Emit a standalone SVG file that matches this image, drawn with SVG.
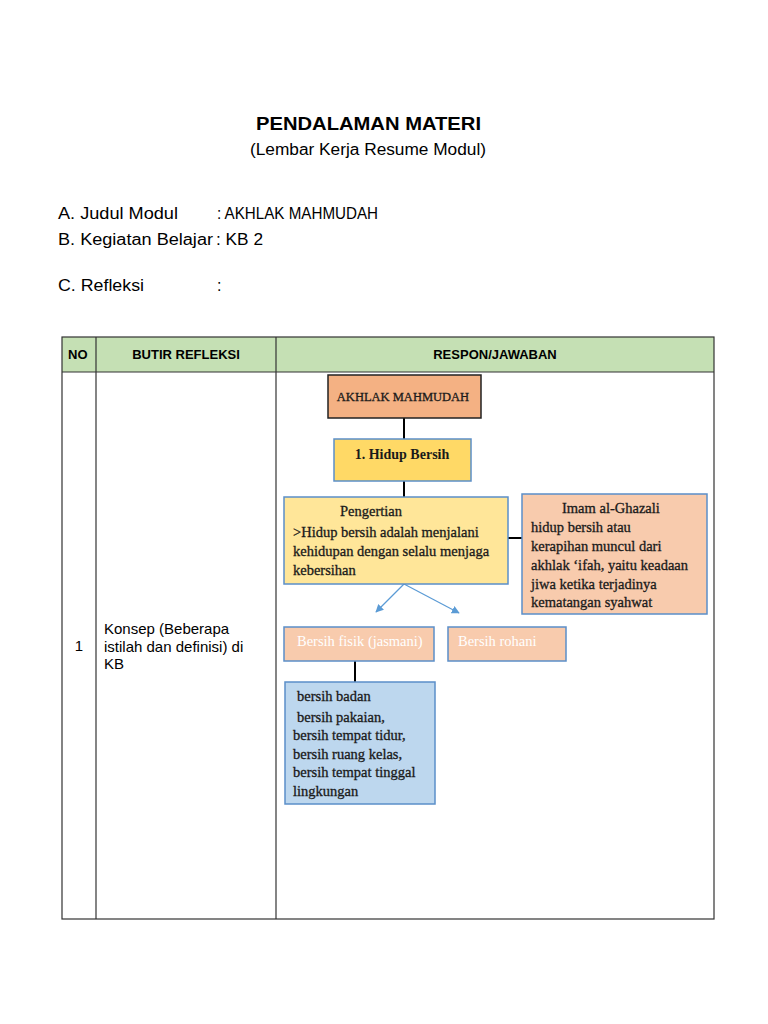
<svg xmlns="http://www.w3.org/2000/svg" width="768" height="1024" viewBox="0 0 768 1024">
<defs>
<style>
.sans{font-family:"Liberation Sans",Arial,sans-serif;fill:#000}
.ser{font-family:"Liberation Serif","Times New Roman",serif;fill:#1a1a1a;font-size:14.5px;stroke:#1a1a1a;stroke-width:0.3}
.cell{fill:none;stroke:#333;stroke-width:1.2}
.node{stroke:#5B8FC9;stroke-width:1.5}
.blk{stroke:#000;stroke-width:2;fill:none}
.blue{stroke:#5B9BD5;stroke-width:1.2;fill:none}
</style>
<marker id="ah" viewBox="0 0 10 10" refX="9" refY="5" markerWidth="8" markerHeight="8" orient="auto" markerUnits="userSpaceOnUse">
<path d="M0,0 L10,5 L0,10 z" fill="#5B9BD5"/>
</marker>
</defs>
<rect width="768" height="1024" fill="#fff"/>

<g id="header">
<text class="sans" x="256" y="130" font-size="18" font-weight="bold" textLength="225" lengthAdjust="spacingAndGlyphs">PENDALAMAN MATERI</text>
<text class="sans" x="250" y="155" font-size="16" textLength="236" lengthAdjust="spacingAndGlyphs">(Lembar Kerja Resume Modul)</text>
<text class="sans" x="58" y="219" font-size="16" textLength="120" lengthAdjust="spacingAndGlyphs">A. Judul Modul</text>
<text class="sans" x="217" y="219" font-size="16" textLength="161" lengthAdjust="spacingAndGlyphs">: AKHLAK MAHMUDAH</text>
<text class="sans" x="58" y="245" font-size="16" textLength="155" lengthAdjust="spacingAndGlyphs">B. Kegiatan Belajar</text>
<text class="sans" x="216" y="245" font-size="16" textLength="47" lengthAdjust="spacingAndGlyphs">: KB 2</text>
<text class="sans" x="58" y="291" font-size="16" textLength="86" lengthAdjust="spacingAndGlyphs">C. Refleksi</text>
<text class="sans" x="217" y="291" font-size="16">:</text>
</g>

<g id="table">
<rect x="62" y="337" width="652" height="35" fill="#C5E0B4"/>
<rect x="62" y="337" width="652" height="582" class="cell"/>
<line x1="62" y1="372" x2="714" y2="372" class="cell"/>
<line x1="96" y1="337" x2="96" y2="919" class="cell"/>
<line x1="276" y1="337" x2="276" y2="919" class="cell"/>
<text class="sans" x="68" y="359" font-size="13" font-weight="bold">NO</text>
<text class="sans" x="186" y="359" font-size="13" font-weight="bold" text-anchor="middle">BUTIR REFLEKSI</text>
<text class="sans" x="495" y="359" font-size="13" font-weight="bold" text-anchor="middle">RESPON/JAWABAN</text>
<text class="sans" x="79" y="651" font-size="15" text-anchor="middle">1</text>
<text class="sans" x="104" y="634" font-size="15">Konsep (Beberapa</text>
<text class="sans" x="104" y="652" font-size="15">istilah dan definisi) di</text>
<text class="sans" x="104" y="669" font-size="15">KB</text>
</g>

<g id="connectors">
<line x1="404" y1="418" x2="404" y2="439" class="blk"/>
<line x1="404" y1="481" x2="404" y2="497" class="blk"/>
<line x1="508" y1="538" x2="522" y2="538" class="blk"/>
<line x1="355" y1="661" x2="355" y2="682" class="blk"/>
<line x1="404" y1="584" x2="376" y2="612" class="blue" marker-end="url(#ah)"/>
<line x1="404" y1="584" x2="459" y2="613" class="blue" marker-end="url(#ah)"/>
</g>

<g id="n-akhlak">
<rect x="328" y="375" width="153" height="43" fill="#F4B183" stroke="#222" stroke-width="1.5"/>
<text class="ser" x="403" y="401" text-anchor="middle" style="font-size:12.5px">AKHLAK MAHMUDAH</text>
</g>

<g id="n-hidup">
<rect x="334" y="439" width="137" height="42" fill="#FFD966" class="node"/>
<text class="ser" x="402" y="459" text-anchor="middle" font-weight="bold" style="font-size:14px;stroke-width:0">1. Hidup Bersih</text>
</g>

<g id="n-pengertian">
<rect x="284" y="497" width="224" height="87" fill="#FFE699" class="node"/>
<text class="ser" x="340" y="516">Pengertian</text>
<text class="ser" x="293" y="537">&gt;Hidup bersih adalah menjalani</text>
<text class="ser" x="293" y="556">kehidupan dengan selalu menjaga</text>
<text class="ser" x="293" y="575">kebersihan</text>
</g>

<g id="n-ghazali">
<rect x="522" y="494" width="185" height="120" fill="#F8CBAD" class="node"/>
<text class="ser" x="562" y="513">Imam al-Ghazali</text>
<text class="ser" x="531" y="532">hidup bersih atau</text>
<text class="ser" x="531" y="551">kerapihan muncul dari</text>
<text class="ser" x="531" y="570">akhlak ‘ifah, yaitu keadaan</text>
<text class="ser" x="531" y="589">jiwa ketika terjadinya</text>
<text class="ser" x="531" y="607">kematangan syahwat</text>
</g>

<g id="n-fisik">
<rect x="284" y="627" width="150" height="34" fill="#F8CBAD" class="node"/>
<text class="ser" x="297" y="646" style="fill:#fff;stroke-width:0">Bersih fisik (jasmani)</text>
</g>

<g id="n-rohani">
<rect x="448" y="627" width="118" height="34" fill="#F8CBAD" class="node"/>
<text class="ser" x="458" y="646" style="fill:#fff;stroke-width:0">Bersih rohani</text>
</g>

<g id="n-list">
<rect x="285" y="682" width="150" height="122" fill="#BDD7EE" class="node"/>
<text class="ser" x="297" y="701">bersih badan</text>
<text class="ser" x="297" y="722">bersih pakaian,</text>
<text class="ser" x="293" y="740">bersih tempat tidur,</text>
<text class="ser" x="293" y="759">bersih ruang kelas,</text>
<text class="ser" x="293" y="777">bersih tempat tinggal</text>
<text class="ser" x="293" y="796">lingkungan</text>
</g>
</svg>
